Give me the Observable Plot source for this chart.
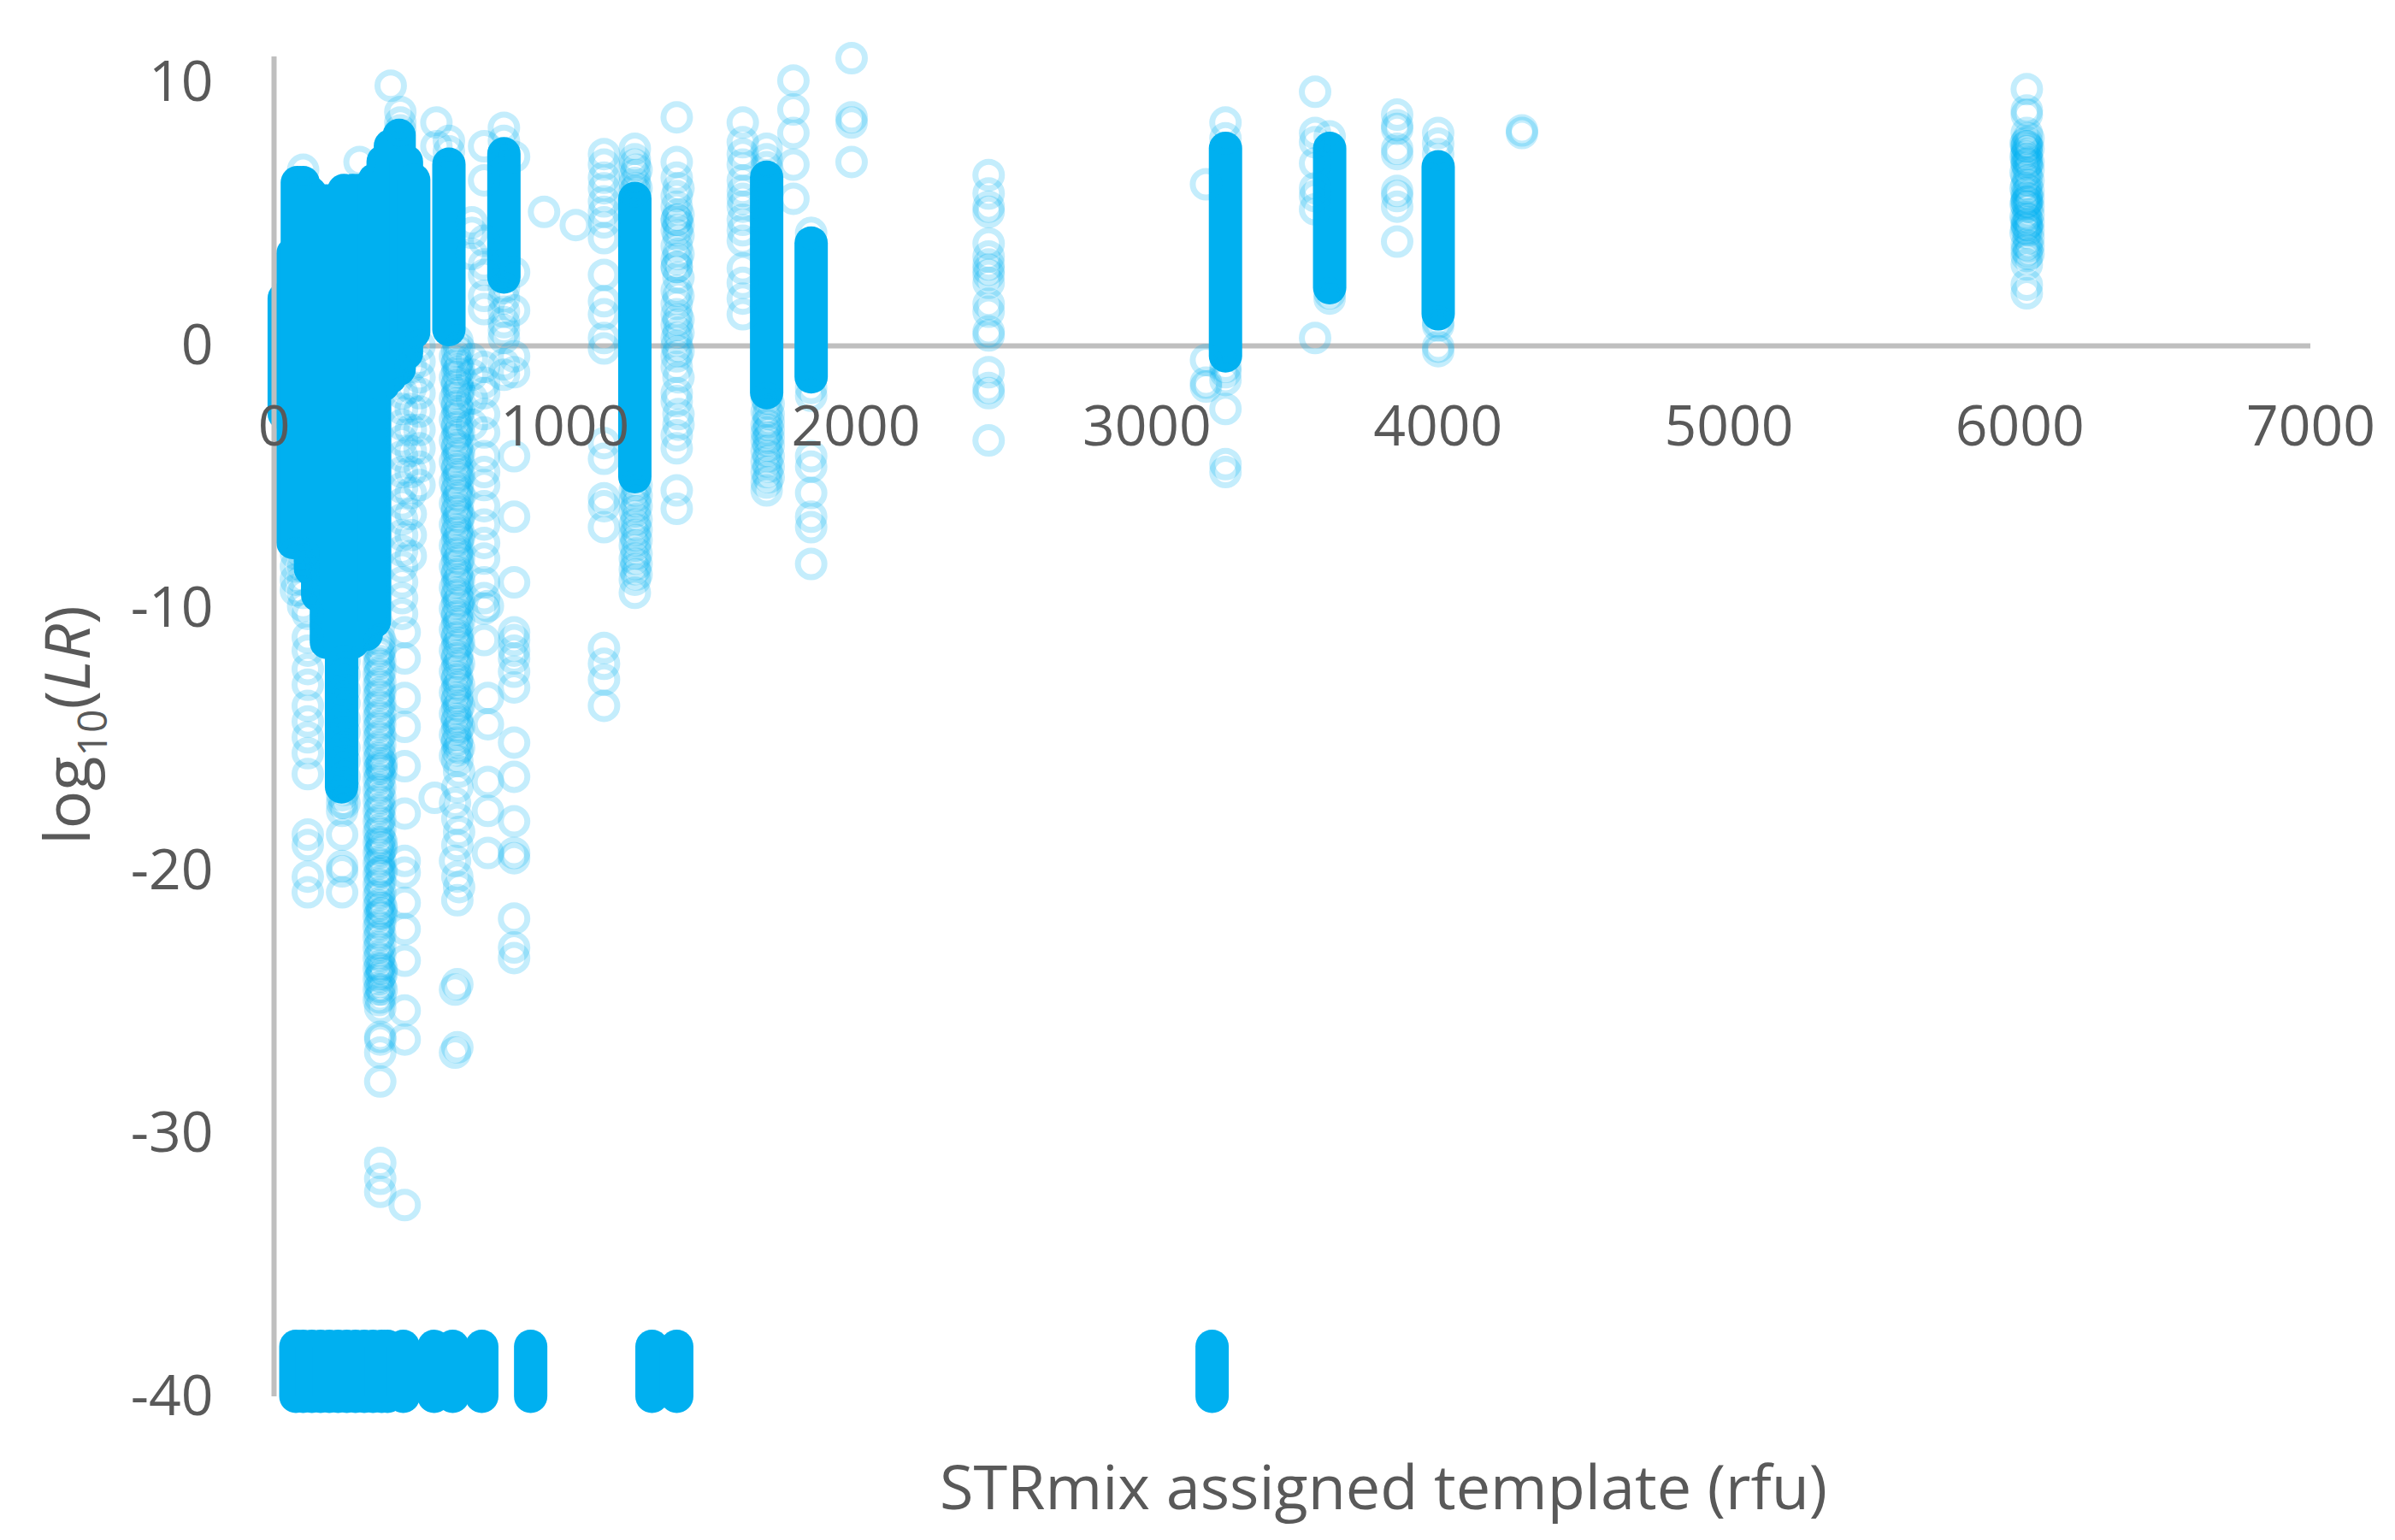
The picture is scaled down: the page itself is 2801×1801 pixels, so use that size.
<!DOCTYPE html>
<html>
<head>
<meta charset="utf-8">
<script src="https://cdn.jsdelivr.net/npm/d3@7"></script>
<script src="https://cdn.jsdelivr.net/npm/@observablehq/plot@0.6"></script>
<style>
  html, body { margin: 0; padding: 0; background: #fff; overflow: hidden; }
  #chart svg { display: block; }
</style>
</head>
<body>
<div id="chart"></div>
<script>
// ---- Axis ticks ----
const xTicks = [0, 1000, 2000, 3000, 4000, 5000, 6000, 7000];
const yTicks = [-40, -30, -20, -10, 0, 10];

// ---- Saturated (heavily over-plotted) regions: [template rfu, top log10LR, bottom log10LR] ----
const leftClusterBands = [
  [35, 1.8, -2.6], [65, 3.5, -7.5], [80, 6.2, -7.5], [100, 6.2, -7.5],
  [125, 5.8, -8.5], [150, 5.5, -9.5], [180, 5.5, -11.3], [210, 5.5, -11.3],
  [232, -11.0, -16.8],
  [240, 5.9, -11.3], [270, 5.9, -11.3], [295, 5.9, -11.0], [317, 5.9, -11.0],
  [345, 6.3, -10.5], [375, 7.0, -1.5], [400, 7.6, -1.2], [430, 8.0, -0.9],
  [455, 7.0, -0.3], [480, 6.3, 0.5]
];
const columnBands = [
  [601, 6.9, 0.6], [790, 7.3, 2.6], [1240, 5.6, -5.0], [1693, 6.4, -1.8],
  [1846, 3.9, -1.2], [3270, 7.5, -0.4], [3628, 7.5, 2.2], [4001, 6.8, 1.2]
];
const floorBands = [
  [75, -38.1, -40], [100, -38.1, -40], [130, -38.1, -40], [160, -38.1, -40],
  [190, -38.1, -40], [220, -38.1, -40], [250, -38.1, -40], [280, -38.1, -40],
  [310, -38.1, -40], [340, -38.1, -40], [370, -38.1, -40], [390, -38.1, -40],
  [444, -38.1, -40], [550, -38.1, -40], [614, -38.1, -40], [714, -38.1, -40],
  [882, -38.1, -40], [1299, -38.1, -40], [1384, -38.1, -40], [3224, -38.1, -40]
];

// ---- Individual points: [template rfu, [log10LR values]] ----
const leftPoints = [
  [75, [-7.9, -8.4, -8.9, -9.3]],
  [100, [6.7, -7.9, -8.4, -8.9, -9.4, -9.9]],
  [116, [-10.2, -11.1, -11.6, -12.3, -12.9, -13.7, -14.3, -14.9, -15.5, -16.3, -18.6, -19.0, -20.2, -20.8]],
  [234, [-17.1, -17.4, -17.7, -18.6, -19.8, -20.0, -20.8]],
  [242, [-12.0, -12.5, -13.1, -13.6, -14.2, -14.7, -15.3, -15.8, -16.4, -16.9, -17.4]],
  [294, [7.0]],
  [360, [-11.3, -11.7, -12.1, -12.5, -12.9, -13.3, -13.7, -14.1, -14.5, -14.9, -15.3, -15.7, -16.1, -16.5, -16.9, -17.3, -17.7, -18.1, -18.5, -18.9, -19.3, -19.7, -20.1, -20.5, -20.9, -21.3, -21.7, -22.1, -22.5, -22.9, -23.3, -23.7, -24.1, -24.5, -24.9]],
  [365, [-11.2, -11.6, -12.0, -12.4, -12.8, -13.2, -13.6, -14.0, -14.4, -14.8, -15.2, -15.6, -16.0, -16.4, -16.8, -17.2, -17.6, -18.0, -18.4, -18.8, -19.2, -19.6, -20.0, -20.4, -20.8, -21.2, -21.6, -22.0, -22.4, -22.8, -23.2, -23.6, -24.0, -24.4, -24.8, -25.2, -26.3, -26.4, -26.9, -28.0, -31.1, -31.7, -32.2]],
  [370, [-15.9, -16.1, -18.9, -19.1, -20.0, -21.4, -21.6, -23.7, -23.9, -24.5]],
  [401, [9.9]],
  [434, [8.9, 8.5, 8.2]],
  [440, [-1.8, -2.4, -3.0, -3.6, -4.2, -4.8, -5.4, -6.0, -6.6, -7.2, -7.8, -8.4, -9.0, -9.6, -10.2]],
  [449, [-10.9, -11.9, -13.4, -14.5, -16.0, -17.8, -19.6, -20.05, -21.2, -22.2, -23.4, -25.3, -26.4, -32.7]],
  [470, [-0.8, -1.6, -2.4, -3.2, -4.0, -4.8, -5.6, -6.4, -7.2, -8.0]],
  [500, [0.0, -0.6, -1.2, -1.8, -2.5, -3.2, -3.9, -4.6, -5.3]],
  [552, [-17.2]],
  [558, [8.5, 7.6]],
  [601, [7.4, 7.8]],
  [630, [0.2, -0.2, -0.6, -1.0, -1.4, -1.8, -2.2, -2.6, -3.0, -3.4, -3.8, -4.2, -4.6, -5.0, -5.4, -5.8, -6.2, -6.6, -7.0, -7.4, -7.8, -8.2, -8.6, -9.0, -9.4, -9.8, -10.2, -10.6, -11.0, -11.4, -11.8, -12.2, -12.6, -13.0, -13.4, -13.8, -14.2, -14.6, -15.0, -15.4, -15.8, -16.8, -18.0, -19.0, -20.2, -21.1, -24.3, -26.7]],
  [622, [-0.4, -1.2, -2.0, -2.8, -3.6, -4.4, -5.2, -6.0, -6.8, -7.6, -8.4, -9.2, -10.0, -10.8, -11.6, -12.4, -13.2, -14.0, -14.8, -15.6, -17.4, -19.6, -24.5, -26.9]],
  [636, [-0.1, -0.9, -1.7, -2.5, -3.3, -4.1, -4.9, -5.7, -6.5, -7.3, -8.1, -8.9, -9.7, -10.5, -11.3, -12.1, -12.9, -13.7, -14.5, -15.3, -16.2, -18.5, -20.6]],
  [628, [-0.7, -1.5, -2.3, -3.1, -3.9, -4.7, -5.5, -6.3, -7.1, -7.9, -8.7, -9.5, -10.3, -11.1, -11.9, -12.7, -13.5, -14.3, -15.1]],
  [680, [4.7, 4.3, 3.5, -0.5, -1.1, -2.0, -3.0]],
  [722, [7.6, 6.3, 4.0, 3.1, 2.7, 1.9, 1.4, -0.8, -1.4, -1.8, -2.6, -3.3, -4.2, -4.8, -5.3, -6.1, -6.8, -7.5, -8.1, -9.0, -9.6, -10.0, -11.2]],
  [735, [-9.9, -13.4, -14.4, -16.6, -17.7, -19.3]],
  [790, [8.3, 7.8, 2.2, 1.8, 1.3, 0.9, 0.6, 0.3, -0.7, -1.1]],
  [825, [7.2, 2.8, 1.35, -0.4, -1.0, -4.2, -6.5, -9.0, -10.9, -11.2, -11.6, -11.9, -12.4, -13.0, -15.1, -16.4, -18.1, -19.3, -19.5, -21.8, -22.9, -23.3]]
];
const midPoints = [
  [928, [5.1]],
  [1037, [4.6]],
  [1134, [7.3, 6.9, 6.4, 6.0, 5.5, 5.1, 4.7, 4.1, 2.7, 1.7, 1.2, 0.3, -0.1, -3.7, -4.3, -5.8, -6.1, -6.9, -11.5, -12.1, -12.7, -13.7]],
  [1240, [7.5, 7.1, 6.9, 6.5, 6.2, 5.9, -5.5, -5.9, -6.3, -6.8, -7.2, -7.6, -8.1, -8.5, -8.9, -9.4]],
  [1246, [6.7, 6.0, -5.3, -5.7, -6.1, -6.6, -7.0, -7.4, -7.9, -8.3, -8.7]],
  [1384, [8.7, 7.0, 6.4, 5.7, 5.3, 4.8, 4.8, 4.4, 3.8, 3.3, 3.0, 3.0, 2.1, 1.6, 1.2, 0.8, 0.3, 0.0, -0.4, -0.8, -1.8, -2.1, -3.4, -3.9, -5.5, -6.2]],
  [1390, [6.0, 5.0, 4.6, 4.2, 3.5, 2.6, 1.9, 1.0, 0.5, -0.2, -1.2, -2.6, -3.0]],
  [1611, [8.5, 7.75, 7.3, 6.9, 6.3, 5.9, 5.6, 5.3, 4.8, 4.4, 4.0, 2.95, 2.4, 1.8, 1.2]],
  [1693, [7.5, 7.1, 6.8, -2.0, -2.5, -3.0, -3.3, -3.6, -4.0, -4.4, -4.8, -5.2, -5.5]],
  [1700, [-2.2, -2.6, -2.9, -3.2, -3.5, -3.8, -4.2, -4.6, -5.0]],
  [1785, [10.1, 9.0, 8.1, 6.9, 5.6]],
  [1846, [4.3, -1.6, -1.9, -4.2, -4.6, -5.6, -6.5, -6.9, -8.3]],
  [1985, [10.95, 8.7, 8.5, 7.0]],
  [2456, [6.5, 5.8, 5.3, 5.1, 3.9, 3.4, 3.1, 2.9, 2.7, 2.4, 1.6, 1.3, 0.55, 0.4, -1.0, -1.6, -1.8, -3.6]]
];
const rightPoints = [
  [3203, [6.15, -0.54, -1.4, -1.55]],
  [3270, [8.5, 7.9, -0.8, -1.0, -1.3, -2.4, -4.5, -4.8]],
  [3578, [9.67, 8.1, 7.75, 6.95, 6.0, 5.7, 5.2, 0.3]],
  [3628, [7.97, 1.8, 2.0]],
  [3860, [8.8, 8.4, 8.26, 7.5, 7.3, 5.9, 5.7, 5.3, 3.97]],
  [4001, [8.1, 7.7, 7.3, 0.77, 0.9, -0.03, -0.2]],
  [4289, [8.2, 8.1]],
  [6024, [9.77, 8.96, 8.8, 8.1, 7.76, 7.6, 7.6, 7.4, 7.3, 7.1, 6.95, 6.9, 6.46, 6.14, 5.81, 5.65, 5.5, 5.48, 5.3, 4.83, 4.62, 4.6, 4.45, 3.86, 3.64, 3.42, 3.1, 2.33, 2.0]],
  [6030, [7.9, 7.5, 7.0, 6.7, 6.3, 5.9, 5.6, 5.3, 5.0, 4.7, 4.4, 4.1, 3.8, 3.5]],
  [6020, [7.7, 7.2, 6.6, 6.0, 5.4, 4.9, 4.3]]
];

// ---- Build tables for Plot ----
const bands = [...leftClusterBands, ...columnBands, ...floorBands]
  .map(([x, y1, y2]) => ({x, y1, y2}));
const points = [...leftPoints, ...midPoints, ...rightPoints]
  .flatMap(([x, ys]) => ys.map(y => ({x, y})));

const BLUE = "#00b0f0";
const GRID = "#bfbfbf";
const TEXT = "#595959";
const FONT = "'Open Sans', 'Noto Sans', sans-serif";

const chart = Plot.plot({
  width: 2801,
  height: 1801,
  marginLeft: 320,
  marginRight: 99,
  marginTop: 66,
  marginBottom: 168,
  style: {fontFamily: FONT, color: TEXT, background: "#fff"},
  x: {domain: [0, 7000], axis: null},
  y: {domain: [-40, 11], axis: null},
  marks: [
    Plot.ruleY([0], {stroke: GRID, strokeWidth: 6}),
    Plot.ruleX(bands, {x: "x", y1: "y1", y2: "y2", stroke: BLUE, strokeWidth: 39, strokeLinecap: "round"}),
    Plot.dot(points, {x: "x", y: "y", r: 15.5, fill: "none", stroke: BLUE, strokeWidth: 7, strokeOpacity: 0.23}),
    Plot.ruleX([0], {stroke: GRID, strokeWidth: 6}),
    Plot.text(xTicks, {x: d => d, y: () => 0, text: d => String(d), dy: 95, fontSize: 66, fill: TEXT}),
    Plot.axisY({ticks: yTicks, tickSize: 0, tickPadding: 71, fontSize: 66, label: null, tickFormat: d => String(d)})
  ]
});

document.getElementById("chart").appendChild(chart);

// ---- Axis titles (rich text) ----
const svg = d3.select(chart);
const yt = svg.append("text")
  .attr("transform", "translate(105,848) rotate(-90)")
  .attr("text-anchor", "middle")
  .attr("fill", TEXT)
  .attr("font-family", FONT)
  .attr("font-size", 74);
yt.append("tspan").text("log");
yt.append("tspan").attr("font-size", 48).attr("dy", 20).text("10");
yt.append("tspan").attr("dy", -20).text("(");
yt.append("tspan").attr("font-style", "italic").text("LR");
yt.append("tspan").text(")");

svg.append("text")
  .attr("x", 1618)
  .attr("y", 1765)
  .attr("text-anchor", "middle")
  .attr("fill", TEXT)
  .attr("font-family", FONT)
  .attr("font-size", 72)
  .text("STRmix assigned template (rfu)");
</script>
</body>
</html>
